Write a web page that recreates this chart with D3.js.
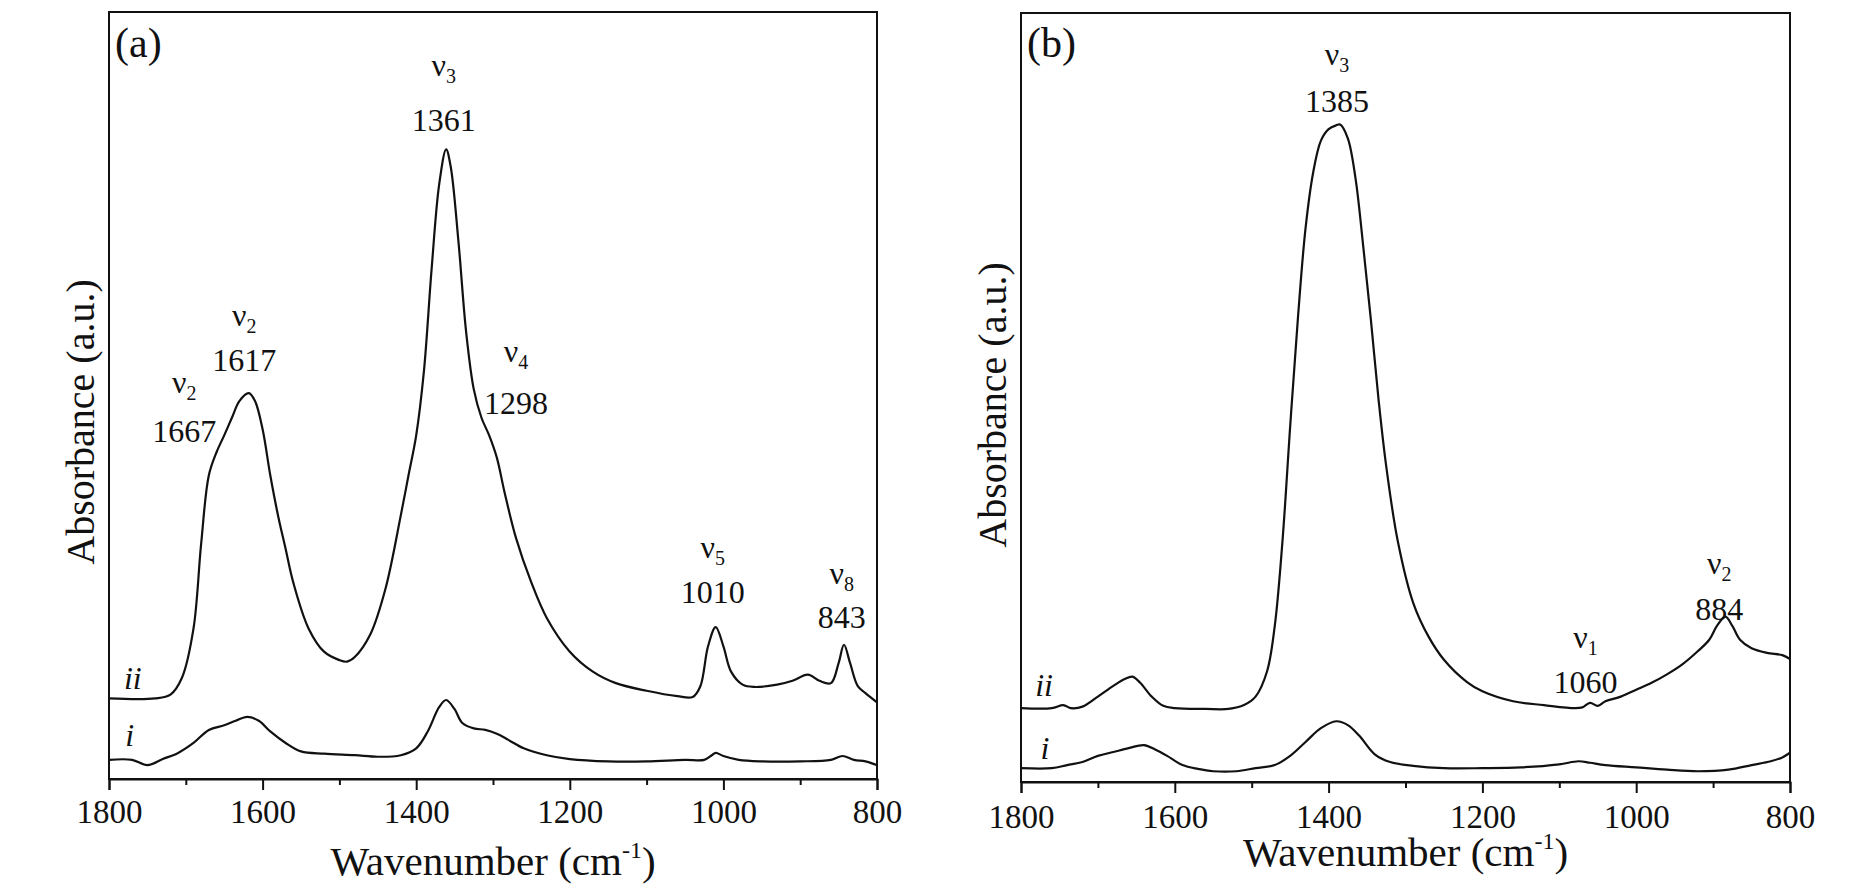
<!DOCTYPE html>
<html>
<head>
<meta charset="utf-8">
<script src="https://cdn.jsdelivr.net/npm/d3@7"></script>
<style>
  body { margin: 0; background: #fff; }
  svg text { font-family: "Liberation Serif", "Times New Roman", serif; fill: #111; }
</style>
</head>
<body>
<div id="chart"></div>
<script>
// wavenumber (cm-1) vs absorbance (a.u., 0-100 of panel height)
const specA_ii = [[1800,10.5],[1740,10.5],[1720,11.0],[1705,13.2],[1690,19.6],[1680,30.7],[1670,39.6],
  [1660,42.6],[1650,44.8],[1640,47.1],[1630,49.3],[1618,50.3],[1610,49.3],[1600,45.6],[1590,39.6],
  [1580,34.4],[1570,30.0],[1560,25.6],[1540,19.6],[1520,16.6],[1500,15.5],[1490,15.3],[1480,15.9],
  [1460,18.8],[1440,24.8],[1420,34.4],[1410,39.6],[1400,44.8],[1390,53.1],[1380,66.4],[1370,77.6],
  [1361,82.1],[1355,79.8],[1345,70.1],[1335,58.3],[1325,50.8],[1315,47.1],[1305,44.8],[1295,41.9],
  [1285,37.4],[1270,31.4],[1250,25.6],[1230,21.0],[1200,16.6],[1170,14.0],[1140,12.5],[1100,11.5],
  [1060,10.8],[1040,10.7],[1030,12.1],[1020,17.3],[1010,19.8],[1000,17.3],[990,14.0],[975,12.3],
  [960,12.0],[930,12.3],[910,12.8],[890,13.6],[875,12.8],[860,12.5],[850,15.1],[843,17.5],
  [835,15.1],[825,12.1],[815,11.2],[800,10.0]];
const specA_i = [[1800,2.5],[1770,2.5],[1750,1.8],[1730,2.6],[1710,3.4],[1690,4.7],[1670,6.4],
  [1650,7.0],[1635,7.6],[1620,8.1],[1605,7.6],[1590,6.2],[1570,4.7],[1550,3.6],[1520,3.3],
  [1480,3.1],[1450,2.9],[1420,3.1],[1400,4.0],[1385,6.2],[1370,9.4],[1361,10.3],[1350,9.1],
  [1340,7.3],[1325,6.6],[1310,6.4],[1295,5.9],[1280,5.1],[1260,4.0],[1230,3.1],[1200,2.6],
  [1150,2.3],[1100,2.3],[1050,2.5],[1025,2.5],[1015,3.1],[1010,3.4],[1000,3.0],[980,2.5],
  [950,2.3],[900,2.3],[860,2.5],[845,3.0],[830,2.5],[815,2.3],[800,1.8]];
const specB_ii = [[1800,9.6],[1760,9.6],[1745,10.0],[1735,9.6],[1720,9.8],[1700,11.1],[1680,12.5],
  [1665,13.4],[1655,13.7],[1645,12.9],[1630,11.1],[1615,9.9],[1600,9.6],[1560,9.5],[1530,9.5],
  [1510,10.0],[1495,11.1],[1480,14.4],[1470,20.3],[1460,31.3],[1450,46.2],[1440,60.2],[1430,72.0],
  [1420,79.3],[1410,83.4],[1400,84.9],[1390,85.4],[1385,85.5],[1375,83.7],[1365,78.5],[1355,69.7],
  [1345,60.1],[1335,49.7],[1325,41.0],[1310,31.3],[1290,23.3],[1270,18.9],[1250,15.9],[1220,13.0],
  [1200,11.8],[1160,10.5],[1120,10.0],[1080,9.6],[1070,9.7],[1060,10.3],[1050,9.9],[1040,10.5],
  [1020,11.1],[1000,12.0],[980,12.9],[960,14.0],[940,15.3],[920,17.0],[905,18.5],[895,20.3],
  [884,21.5],[875,20.3],[865,18.5],[850,17.4],[830,16.8],[810,16.5],[800,16.0]];
const specB_i = [[1800,1.8],[1760,1.8],[1740,2.2],[1720,2.6],[1700,3.4],[1680,3.9],[1660,4.4],
  [1640,4.8],[1625,4.2],[1610,3.4],[1590,2.2],[1570,1.7],[1550,1.4],[1520,1.4],[1495,1.8],
  [1470,2.2],[1450,3.4],[1430,5.2],[1410,7.0],[1390,7.9],[1375,7.4],[1360,6.0],[1340,3.6],
  [1320,2.6],[1290,2.1],[1250,1.8],[1200,1.8],[1150,1.9],[1100,2.3],[1075,2.7],[1060,2.5],
  [1040,2.2],[1000,1.9],[960,1.6],[920,1.4],[880,1.6],[850,2.2],[825,2.7],[810,3.2],[800,3.8]];

// peak labels: [mode, subscript, number text, wavenumber, y of mode line, y of number line]
const labelsA = [["ν","3","1361",1364,91.7,84.5],["ν","2","1617",1624,59.1,53.2],
  ["ν","2","1667",1702,50.3,43.9],["ν","4","1298",1270,54.4,47.6],
  ["ν","5","1010",1014,28.8,22.9],["ν","8","843",846,25.4,19.7]];
const labelsB = [["ν","3","1385",1389,93.2,87.1],["ν","1","1060",1066,17.4,11.6],
  ["ν","2","884",892,27.0,21.1]];
// trace labels: [text, wavenumber, y]
const traceA = [["ii",1769,11.7],["i",1773,4.3]];
const traceB = [["ii",1770,11.2],["i",1769,3.0]];

const majorTicks = [1800,1600,1400,1200,1000,800];
const minorTicks = [1700,1500,1300,1100,900];

const svg = d3.select('#chart').append('svg')
  .attr('width', 1849).attr('height', 894);

function drawPanel(p) {
  const x = d3.scaleLinear().domain([1800, 800]).range([p.left, p.right]);
  const y = d3.scaleLinear().domain([0, 100]).range([p.bottom, p.top]);
  const g = svg.append('g');

  // frame
  g.append('rect')
    .attr('x', p.left).attr('y', p.top)
    .attr('width', p.right - p.left).attr('height', p.bottom - p.top)
    .attr('fill', 'none').attr('stroke', '#111').attr('stroke-width', 2);

  // minor ticks
  g.append('g').attr('transform', `translate(0,${p.bottom})`)
    .call(d3.axisBottom(x).tickValues(minorTicks).tickSize(6).tickFormat(''))
    .call(a => a.select('.domain').remove())
    .call(a => a.selectAll('line').attr('stroke', '#111').attr('stroke-width', 2));

  // major ticks + labels
  g.append('g').attr('transform', `translate(0,${p.bottom})`)
    .call(d3.axisBottom(x).tickValues(majorTicks).tickSize(11).tickPadding(p.pad).tickFormat(d3.format('d')))
    .call(a => a.select('.domain').attr('stroke', '#111').attr('stroke-width', 2))
    .call(a => a.selectAll('line').attr('stroke', '#111').attr('stroke-width', 2))
    .call(a => a.selectAll('text').attr('font-size', 33).attr('fill', '#111')
      .style('font-family', '"Liberation Serif", serif'));

  const line = d3.line()
    .x(d => x(d[0])).y(d => y(d[1]))
    .curve(d3.curveCatmullRom.alpha(0.5));

  p.series.forEach(s => {
    g.append('path').attr('d', line(s))
      .attr('fill', 'none').attr('stroke', '#111').attr('stroke-width', 2.2)
      .attr('stroke-linejoin', 'round');
  });

  // peak labels
  p.labels.forEach(l => {
    const t = g.append('text').attr('x', x(l[3])).attr('y', y(l[4]))
      .attr('text-anchor', 'middle').attr('font-size', 32);
    t.append('tspan').text(l[0]);
    t.append('tspan').attr('font-size', 20).attr('dy', 7).text(l[1]);
    g.append('text').attr('x', x(l[3])).attr('y', y(l[5]))
      .attr('text-anchor', 'middle').attr('font-size', 32).text(l[2]);
  });

  p.traces.forEach(l => {
    g.append('text').attr('x', x(l[1])).attr('y', y(l[2]))
      .attr('text-anchor', 'middle').attr('font-size', 32)
      .attr('font-style', 'italic').text(l[0]);
  });

  // panel letter
  g.append('text').attr('x', p.left + 6).attr('y', 57)
    .attr('font-size', 42).text(p.letter);

  // axis titles
  g.append('text')
    .attr('transform', `translate(${p.left - 15},${p.yTitleY}) rotate(-90)`)
    .attr('text-anchor', 'middle').attr('font-size', 40)
    .text('Absorbance (a.u.)');

  const xt = g.append('text').attr('x', (p.left + p.right) / 2).attr('y', p.xTitleY)
    .attr('text-anchor', 'middle').attr('font-size', 41);
  xt.append('tspan').text('Wavenumber (cm');
  xt.append('tspan').attr('font-size', 24).attr('dy', -17).text('-1');
  xt.append('tspan').attr('dy', 17).text(')');
}

drawPanel({letter: '(a)', left: 109, right: 877, top: 12, bottom: 779, pad: 10,
  series: [specA_ii, specA_i], labels: labelsA, traces: traceA, yTitleY: 422, xTitleY: 875});
drawPanel({letter: '(b)', left: 1021, right: 1790, top: 13, bottom: 782, pad: 12,
  series: [specB_ii, specB_i], labels: labelsB, traces: traceB, yTitleY: 405, xTitleY: 866});
</script>
</body>
</html>
